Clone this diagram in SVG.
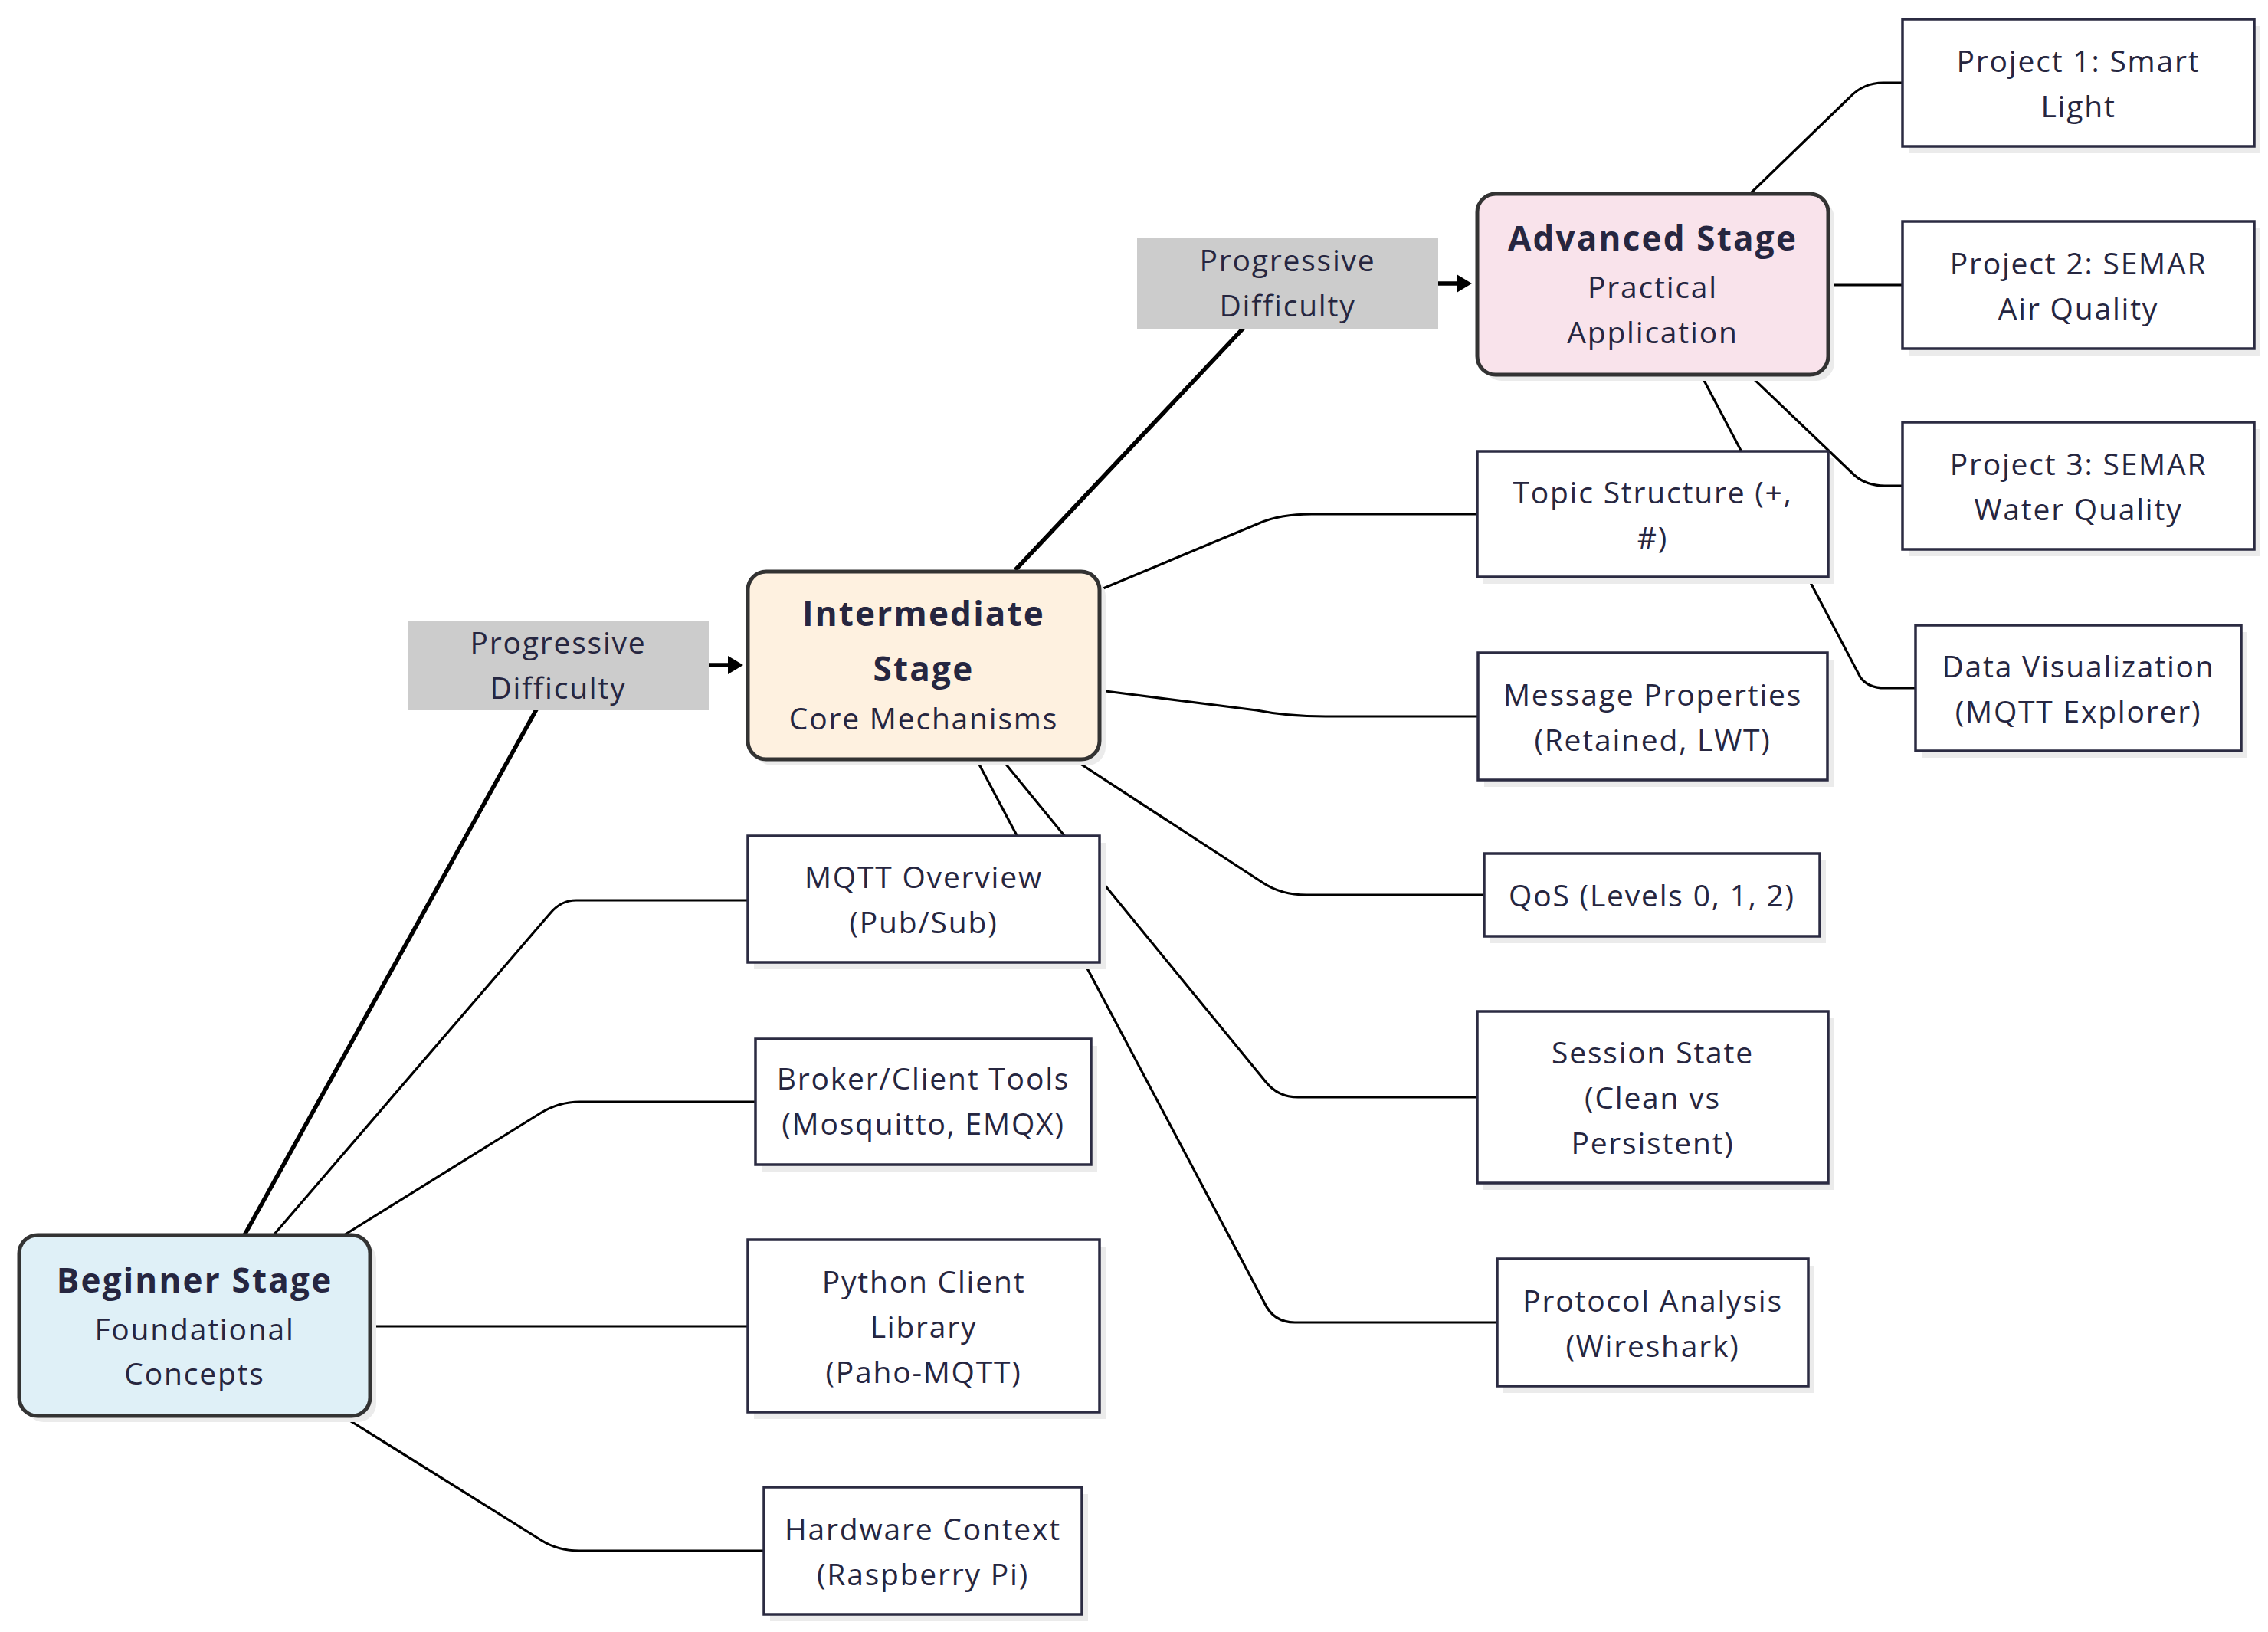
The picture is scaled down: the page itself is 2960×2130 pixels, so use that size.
<svg xmlns="http://www.w3.org/2000/svg" width="2960" height="2130" viewBox="0 0 2960 2130">
<defs>
<style>
.t{font-family:"Open Sans","Noto Sans",sans-serif;font-size:39px;fill:#262640;text-anchor:middle;letter-spacing:1.8px}
.b{font-weight:700;font-size:44px;letter-spacing:2.2px}
.leaf{fill:#ffffff;stroke:#2b2b42;stroke-width:3.5}
.sh{fill:#ebebeb}
.stage{stroke:#333333;stroke-width:5}
.lbl{fill:#cccccc}
.c{fill:none;stroke:#000000;stroke-width:3.2}
.ct{fill:none;stroke:#000000;stroke-width:5.5}
</style>
<marker id="ah" markerUnits="userSpaceOnUse" markerWidth="20" markerHeight="24" viewBox="0 0 20 24" refX="0" refY="12" orient="auto">
<path d="M0,0 L20,12 L0,24 z" fill="#000000"/>
</marker>
</defs>
<rect width="2960" height="2130" fill="#ffffff"/>

<g id="connectors">
<path class="c" d="M357,1612 L718,1192 Q732,1175 752,1175 L976,1175"/>
<path class="c" d="M449,1612 L705,1453 Q729,1438 757,1438 L986,1438"/>
<path class="c" d="M483,1731 L976,1731"/>
<path class="c" d="M450,1850 L706,2010 Q728,2024 756,2024 L997,2024"/>
<path class="c" d="M1435,770 L1643,683 Q1670,671 1712,671 L1928,671"/>
<path class="c" d="M1435,901 L1640,927 Q1680,935 1730,935 L1929,935"/>
<path class="c" d="M1401,991 L1648,1152 Q1672,1168 1705,1168 L1937,1168"/>
<path class="c" d="M1310,994 L1652,1412 Q1668,1432 1694,1432 L1928,1432"/>
<path class="c" d="M1276,994 L1650,1700 Q1662,1726 1690,1726 L1954,1726"/>
<path class="c" d="M2285,252 L2414,127 Q2432,108 2458,108 L2483,108"/>
<path class="c" d="M2386,372 L2483,372"/>
<path class="c" d="M2283,489 L2420,620 Q2436,634 2460,634 L2483,634"/>
<path class="c" d="M2220,489 L2428,884 Q2438,898 2460,898 L2500,898"/>
<path class="ct" d="M319,1612 L720,890 Q740,868 780,868 L950,868" marker-end="url(#ah)"/>
<path class="ct" d="M1325,744 L1640,410 Q1660,370 1700,370 L1901,370" marker-end="url(#ah)"/>
</g>

<g id="label-progressive-1">
<rect class="lbl" x="532" y="810" width="393" height="117"/>
<text class="t" x="728.5" y="853">Progressive</text>
<text class="t" x="728.5" y="912">Difficulty</text>
</g>
<g id="label-progressive-2">
<rect class="lbl" x="1484" y="311" width="393" height="118"/>
<text class="t" x="1680.5" y="354">Progressive</text>
<text class="t" x="1680.5" y="413">Difficulty</text>
</g>

<g id="beginner">
<rect class="sh" x="33" y="1620" width="458" height="236" rx="24"/>
<rect class="stage" x="25" y="1612" width="458" height="236" rx="24" fill="#dff0f7"/>
<text class="t b" x="254" y="1687">Beginner Stage</text>
<text class="t" x="254" y="1749">Foundational</text>
<text class="t" x="254" y="1807">Concepts</text>
</g>
<g id="intermediate">
<rect class="sh" x="984" y="754" width="459" height="245" rx="24"/>
<rect class="stage" x="976" y="746" width="459" height="245" rx="24" fill="#fef1e0"/>
<text class="t b" x="1205.5" y="817">Intermediate</text>
<text class="t b" x="1205.5" y="889">Stage</text>
<text class="t" x="1205.5" y="952">Core Mechanisms</text>
</g>
<g id="advanced">
<rect class="sh" x="1936" y="261" width="458" height="236" rx="24"/>
<rect class="stage" x="1928" y="253" width="458" height="236" rx="24" fill="#f9e3eb"/>
<text class="t b" x="2157" y="327">Advanced Stage</text>
<text class="t" x="2157" y="389">Practical</text>
<text class="t" x="2157" y="448">Application</text>
</g>

<g id="mqtt-overview">
<rect class="sh" x="984" y="1100" width="459" height="165"/>
<rect class="leaf" x="976" y="1091" width="459" height="165"/>
<text class="t" x="1205.5" y="1159">MQTT Overview</text>
<text class="t" x="1205.5" y="1218">(Pub/Sub)</text>
</g>
<g id="broker-tools">
<rect class="sh" x="994" y="1365" width="438" height="164"/>
<rect class="leaf" x="986" y="1356" width="438" height="164"/>
<text class="t" x="1205" y="1422">Broker/Client Tools</text>
<text class="t" x="1205" y="1481">(Mosquitto, EMQX)</text>
</g>
<g id="python-client">
<rect class="sh" x="984" y="1627" width="459" height="225"/>
<rect class="leaf" x="976" y="1618" width="459" height="225"/>
<text class="t" x="1205.5" y="1687">Python Client</text>
<text class="t" x="1205.5" y="1746">Library</text>
<text class="t" x="1205.5" y="1805">(Paho-MQTT)</text>
</g>
<g id="hardware-context">
<rect class="sh" x="1005" y="1950" width="415" height="166"/>
<rect class="leaf" x="997" y="1941" width="415" height="166"/>
<text class="t" x="1204.5" y="2010">Hardware Context</text>
<text class="t" x="1204.5" y="2069">(Raspberry Pi)</text>
</g>

<g id="topic-structure">
<rect class="sh" x="1936" y="598" width="458" height="164"/>
<rect class="leaf" x="1928" y="589" width="458" height="164"/>
<text class="t" x="2157" y="657">Topic Structure (+,</text>
<text class="t" x="2157" y="716">#)</text>
</g>
<g id="message-properties">
<rect class="sh" x="1937" y="861" width="456" height="166"/>
<rect class="leaf" x="1929" y="852" width="456" height="166"/>
<text class="t" x="2157" y="921">Message Properties</text>
<text class="t" x="2157" y="980">(Retained, LWT)</text>
</g>
<g id="qos">
<rect class="sh" x="1945" y="1123" width="438" height="108"/>
<rect class="leaf" x="1937" y="1114" width="438" height="108"/>
<text class="t" x="2156" y="1183">QoS (Levels 0, 1, 2)</text>
</g>
<g id="session-state">
<rect class="sh" x="1936" y="1329" width="458" height="224"/>
<rect class="leaf" x="1928" y="1320" width="458" height="224"/>
<text class="t" x="2157" y="1388">Session State</text>
<text class="t" x="2157" y="1447">(Clean vs</text>
<text class="t" x="2157" y="1506">Persistent)</text>
</g>
<g id="protocol-analysis">
<rect class="sh" x="1962" y="1652" width="406" height="166"/>
<rect class="leaf" x="1954" y="1643" width="406" height="166"/>
<text class="t" x="2157" y="1712">Protocol Analysis</text>
<text class="t" x="2157" y="1771">(Wireshark)</text>
</g>

<g id="project-1">
<rect class="sh" x="2491" y="34" width="459" height="166"/>
<rect class="leaf" x="2483" y="25" width="459" height="166"/>
<text class="t" x="2712.5" y="94">Project 1: Smart</text>
<text class="t" x="2712.5" y="153">Light</text>
</g>
<g id="project-2">
<rect class="sh" x="2491" y="298" width="459" height="166"/>
<rect class="leaf" x="2483" y="289" width="459" height="166"/>
<text class="t" x="2712.5" y="358">Project 2: SEMAR</text>
<text class="t" x="2712.5" y="417">Air Quality</text>
</g>
<g id="project-3">
<rect class="sh" x="2491" y="560" width="459" height="166"/>
<rect class="leaf" x="2483" y="551" width="459" height="166"/>
<text class="t" x="2712.5" y="620">Project 3: SEMAR</text>
<text class="t" x="2712.5" y="679">Water Quality</text>
</g>
<g id="data-visualization">
<rect class="sh" x="2508" y="825" width="425" height="164"/>
<rect class="leaf" x="2500" y="816" width="425" height="164"/>
<text class="t" x="2712.5" y="884">Data Visualization</text>
<text class="t" x="2712.5" y="943">(MQTT Explorer)</text>
</g>
</svg>
